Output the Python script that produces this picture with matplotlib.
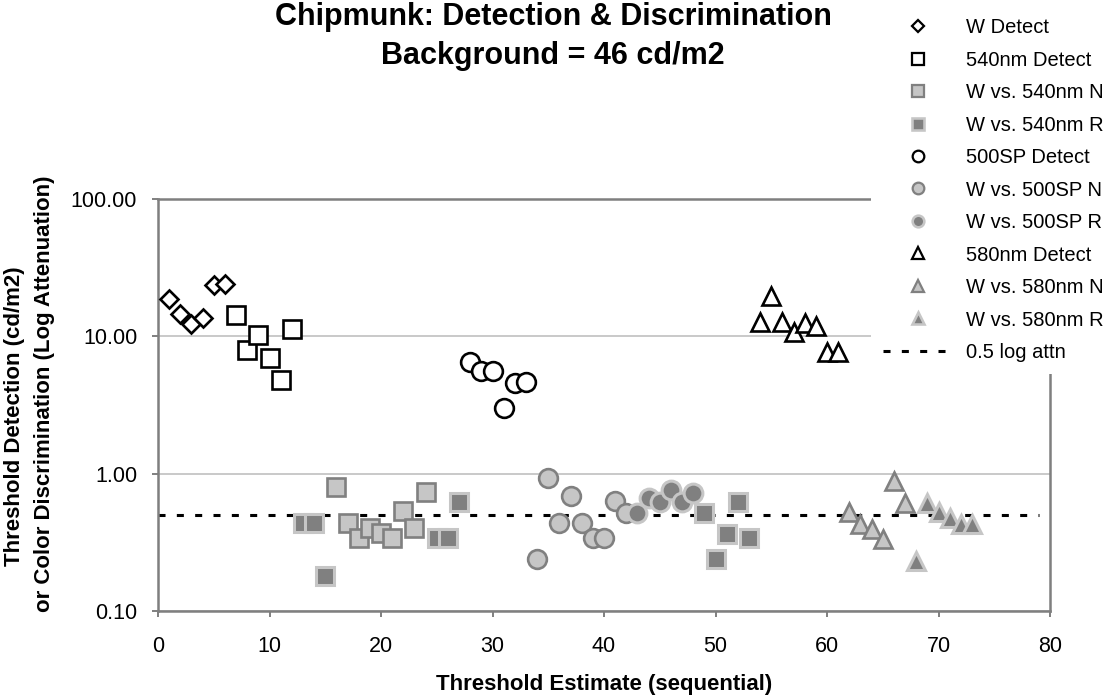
import matplotlib.pyplot as plt
from matplotlib.lines import Line2D
from matplotlib.ticker import FixedLocator, FuncFormatter

plt.rcParams['font.family'] = ['Liberation Sans', 'DejaVu Sans']

# values (x = threshold estimate number, y = threshold)
w_detect_x = [1, 2, 3, 4, 5, 6]
w_detect_y = [18.8, 14.6, 12.4, 13.5, 23.8, 24.2]

g540_detect_x = [7, 8, 9, 10, 11, 12]
g540_detect_y = [14.4, 8.0, 10.3, 7.0, 4.84, 11.4]

w_vs_540_n_x = [16, 17, 18, 19, 20, 21, 22, 23, 24]
w_vs_540_n_y = [0.80, 0.44, 0.342, 0.404, 0.372, 0.342, 0.538, 0.404, 0.74]

w_vs_540_r_x = [13, 14, 15, 25, 26, 27, 49, 50, 51, 52, 53]
w_vs_540_r_y = [0.44, 0.44, 0.181, 0.342, 0.342, 0.625, 0.52, 0.24, 0.366, 0.625, 0.342]

sp500_detect_x = [28, 29, 30, 31, 32, 33]
sp500_detect_y = [6.54, 5.62, 5.62, 3.03, 4.60, 4.68]

w_vs_500_n_x = [34, 35, 36, 37, 38, 39, 40, 41, 42]
w_vs_500_n_y = [0.24, 0.935, 0.44, 0.69, 0.44, 0.342, 0.342, 0.636, 0.52]

w_vs_500_r_x = [43, 44, 45, 46, 47, 48]
w_vs_500_r_y = [0.52, 0.668, 0.625, 0.765, 0.625, 0.727]

g580_detect_x = [54, 55, 56, 57, 58, 59, 60, 61]
g580_detect_y = [12.8, 19.8, 12.8, 10.8, 12.6, 11.8, 7.74, 7.74]

w_vs_580_n_x = [62, 63, 64, 65, 66, 67]
w_vs_580_n_y = [0.529, 0.432, 0.397, 0.336, 0.889, 0.615]

w_vs_580_r_x = [68, 69, 70, 71, 72, 73]
w_vs_580_r_y = [0.232, 0.615, 0.529, 0.478, 0.432, 0.432]

ref_x = [0, 79]
ref_y = [0.5, 0.5]

y_ticks = [0.1, 1, 10, 100]
x_ticks = [0, 10, 20, 30, 40, 50, 60, 70, 80]

# marker looks: open black, light gray w/ dark edge (N), dark gray w/ light edge (R)
open_style = dict(mfc='white', mec='black', mew=1.9)
n_style = dict(mfc='#c6c6c6', mec='#808080', mew=1.9)
r_style = dict(mfc='#808080', mec='#c6c6c6', mew=2.2)

series = [
    ('W Detect', w_detect_x, w_detect_y, 'D', 9.5, open_style),
    ('540nm Detect', g540_detect_x, g540_detect_y, 's', 13.5, open_style),
    ('W vs. 540nm N', w_vs_540_n_x, w_vs_540_n_y, 's', 13.5, n_style),
    ('W vs. 540nm R', w_vs_540_r_x, w_vs_540_r_y, 's', 13.5, r_style),
    ('500SP Detect', sp500_detect_x, sp500_detect_y, 'o', 13.5, open_style),
    ('W vs. 500SP N', w_vs_500_n_x, w_vs_500_n_y, 'o', 13.5, n_style),
    ('W vs. 500SP R', w_vs_500_r_x, w_vs_500_r_y, 'o', 13.5, r_style),
    ('580nm Detect', g580_detect_x, g580_detect_y, '^', 13, open_style),
    ('W vs. 580nm N', w_vs_580_n_x, w_vs_580_n_y, '^', 13, n_style),
    ('W vs. 580nm R', w_vs_580_r_x, w_vs_580_r_y, '^', 13, r_style),
]

fig = plt.figure(figsize=(11.06, 6.98), dpi=100)
ax = fig.add_axes([158 / 1106, 1 - 611 / 698, (1050 - 158) / 1106, (611 - 199) / 698])

# dashed reference line sits behind the markers
ax.plot(ref_x, ref_y, color='black', lw=2.2, linestyle=(0, (2.3, 3.7)), zorder=2)

handles = []
for i, (name, xs, ys, mk, ms, st) in enumerate(series):
    ax.plot(xs, ys, linestyle='none', marker=mk, ms=ms, zorder=3 + i, **st)
    handles.append(Line2D([], [], linestyle='none', marker=mk,
                          ms=ms * 0.62, **dict(st, mew=st['mew'] * 0.85)))
handles.append(Line2D([], [], color='black', lw=2.2, linestyle=(0, (2.3, 3.7))))
labels = [s[0] for s in series] + ['0.5 log attn']

ax.set_yscale('log')
ax.set_xlim(0, 80)
ax.set_ylim(0.1, 100)
ax.yaxis.set_major_locator(FixedLocator(y_ticks))
ax.yaxis.set_minor_locator(FixedLocator([]))
ax.yaxis.set_major_formatter(FuncFormatter(lambda v, p: '%.2f' % v))
ax.xaxis.set_major_locator(FixedLocator(x_ticks))

ax.grid(axis='y', color='#c0c0c0', lw=1.2, zorder=0)
ax.set_axisbelow(True)
for sp in ax.spines.values():
    sp.set_color('#7f7f7f')
    sp.set_linewidth(1.8)
ax.tick_params(direction='out', length=4, width=1.4, color='#7f7f7f', labelsize=15.5)
ax.tick_params(axis='y', pad=11)
ax.tick_params(axis='x', pad=14)

ax.set_xlabel('Threshold Estimate (sequential)', fontsize=16, fontweight='bold', labelpad=12)

# two line y label, each line placed on its own
fig.text(15 / 1106, 1 - 416 / 698, 'Threshold Detection (cd/m2)', rotation=90,
         ha='center', va='center', fontsize=16, fontweight='bold')
fig.text(45 / 1106, 1 - 394 / 698, 'or Color Discrimination (Log Attenuation)', rotation=90,
         ha='center', va='center', fontsize=16, fontweight='bold')

fig.text(0.5, 1 - 2 / 698, 'Chipmunk: Detection & Discrimination\nBackground = 46 cd/m2',
         ha='center', va='top', fontsize=22, fontweight='bold', linespacing=1.38)

leg = fig.legend(handles, labels, loc='upper left', bbox_to_anchor=(871 / 1106, 1 - 6 / 698),
                 frameon=True, fancybox=False, edgecolor='none', facecolor='white',
                 framealpha=1, fontsize=14.5, handlelength=3.5, handletextpad=0.6,
                 labelspacing=0.67, borderpad=0.6, borderaxespad=0)

fig.savefig('out.png', dpi=100)
